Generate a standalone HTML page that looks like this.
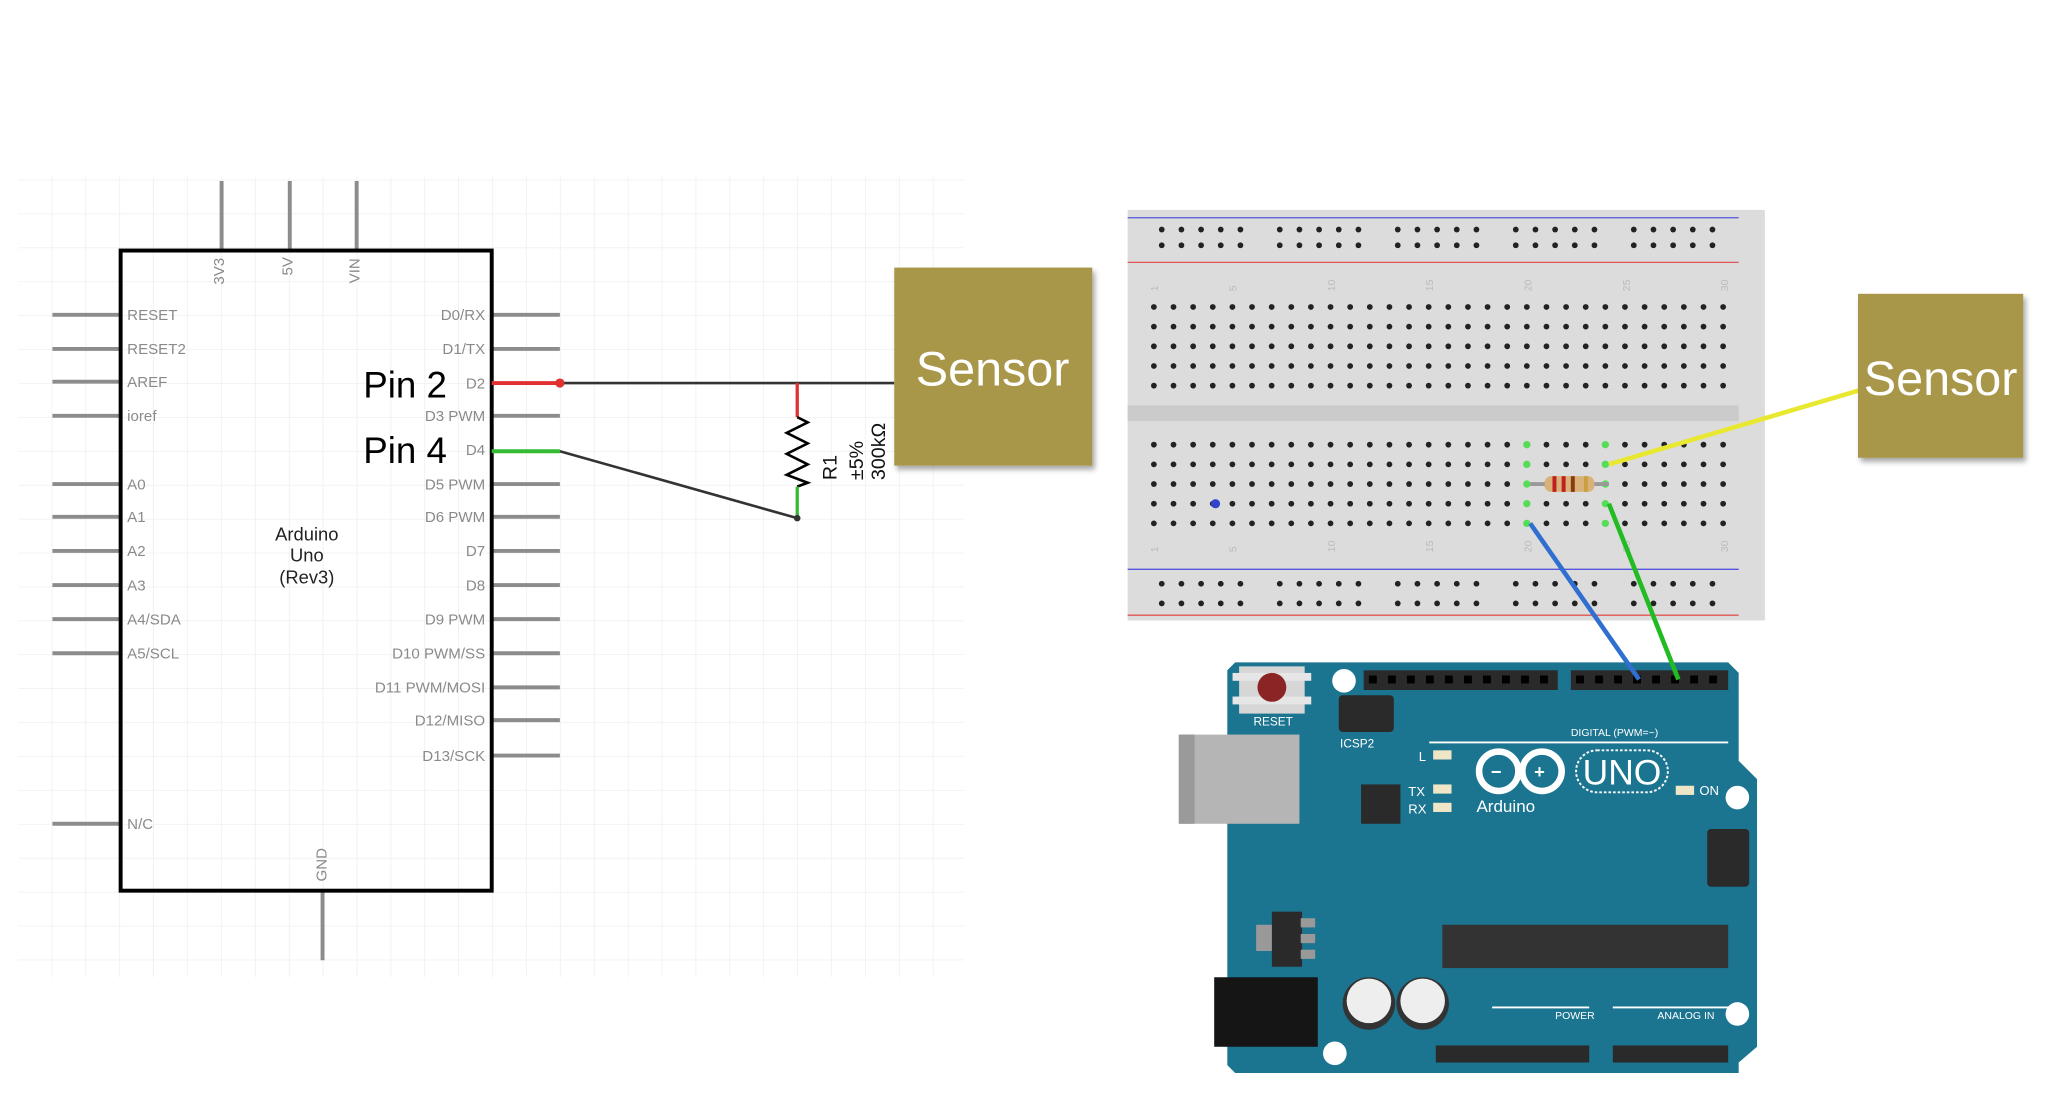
<!DOCTYPE html>
<html><head><meta charset="utf-8"><style>
html,body{margin:0;padding:0;background:#fff;width:2056px;height:1094px;overflow:hidden}
svg{display:block}
text{font-family:"Liberation Sans",sans-serif}
.pl{font-size:11.5px;fill:#8a8a8a}
.pin{stroke:#8c8c8c;stroke-width:3}
</style></head><body>
<svg id="s" width="2056" height="1094" viewBox="0 0 1568 834" preserveAspectRatio="none" xmlns="http://www.w3.org/2000/svg">
<defs>
<pattern id="grid" x="14" y="137.5" width="25.85" height="25.85" patternUnits="userSpaceOnUse">
<path d="M25.85 0V25.85H0" fill="none" stroke="#ececec" stroke-width="1"/>
</pattern>
<filter id="sh" x="-10%" y="-10%" width="130%" height="130%"><feDropShadow dx="2" dy="3" stdDeviation="2" flood-color="#000" flood-opacity="0.35"/></filter>
</defs>
<rect x="14" y="135" width="721" height="610" fill="url(#grid)"/>
<line class="pin" x1="169" y1="138" x2="169" y2="191"/>
<line class="pin" x1="221" y1="138" x2="221" y2="191"/>
<line class="pin" x1="272" y1="138" x2="272" y2="191"/>
<line class="pin" x1="246" y1="679" x2="246" y2="732"/>
<g id="lp"></g>
<rect x="92" y="191" width="283" height="488" fill="none" stroke="#000" stroke-width="3"/>
<text class="pl" transform="translate(171,217) rotate(-90)">3V3</text>
<text class="pl" transform="translate(223,210) rotate(-90)">5V</text>
<text class="pl" transform="translate(274,216) rotate(-90)">VIN</text>
<text class="pl" transform="translate(249,672) rotate(-90)">GND</text>
<text x="234" y="412" font-size="14" text-anchor="middle" fill="#222">Arduino</text>
<text x="234" y="428" font-size="14" text-anchor="middle" fill="#222">Uno</text>
<text x="234" y="445" font-size="14" text-anchor="middle" fill="#222">(Rev3)</text>
<text x="277" y="303" font-size="28" fill="#000">Pin 2</text>
<text x="277" y="353" font-size="28" fill="#000">Pin 4</text>
<line x1="375" y1="292" x2="427" y2="292" stroke="#e03030" stroke-width="3"/>
<line x1="375" y1="344" x2="427" y2="344" stroke="#33bb33" stroke-width="3"/>
<line x1="427" y1="292" x2="682" y2="292" stroke="#333" stroke-width="2"/>
<circle cx="427" cy="292" r="3.5" fill="#e03030"/>
<line x1="427" y1="344" x2="608" y2="395" stroke="#333" stroke-width="2"/>
<line x1="608" y1="292" x2="608" y2="318" stroke="#e03030" stroke-width="2.5"/>
<polyline points="608,318 616,322 600,330 616,338 600,346 616,354 600,362 616,368 608,371" fill="none" stroke="#000" stroke-width="2"/>
<line x1="608" y1="371" x2="608" y2="395" stroke="#33bb33" stroke-width="2.5"/>
<circle cx="608" cy="395" r="2.5" fill="#333"/>
<text transform="translate(638,366) rotate(-90)" font-size="15" fill="#111">R1</text>
<text transform="translate(658,366) rotate(-90)" font-size="15" fill="#111">±5%</text>
<text transform="translate(675,366) rotate(-90)" font-size="15" fill="#111">300kΩ</text>
<rect x="682" y="204" width="151" height="151" fill="#a8964a" filter="url(#sh)"/>
<text x="757" y="294" font-size="37" text-anchor="middle" fill="#fff">Sensor</text>

<rect x="860" y="160" width="486" height="313" fill="#dcdcdc"/>
<rect x="860" y="309" width="466" height="12" fill="#cbcbcb"/>
<line x1="860" y1="166" x2="1326" y2="166" stroke="#5555dd" stroke-width="1"/>
<line x1="860" y1="200" x2="1326" y2="200" stroke="#e05555" stroke-width="1"/>
<line x1="860" y1="434" x2="1326" y2="434" stroke="#5555dd" stroke-width="1"/>
<line x1="860" y1="469" x2="1326" y2="469" stroke="#e05555" stroke-width="1"/>
<g id="bb"></g>
<line x1="1167" y1="369" x2="1227" y2="369" stroke="#999" stroke-width="3"/>
<rect x="1178" y="363" width="38" height="12" rx="5" fill="#d9b27a"/>
<rect x="1184" y="363" width="3" height="12" fill="#c02020"/>
<rect x="1191" y="363" width="3" height="12" fill="#c02020"/>
<rect x="1198" y="363" width="3" height="12" fill="#8a3a10"/>
<rect x="1208" y="363" width="3" height="12" fill="#c9a040"/>
<circle cx="927" cy="384" r="3.5" fill="#3344cc"/>
<line x1="1227" y1="354" x2="1420" y2="297" stroke="#e8e830" stroke-width="3.5"/>
<rect x="1417" y="224" width="126" height="125" fill="#a8964a" filter="url(#sh)"/>
<text x="1480" y="301" font-size="37" text-anchor="middle" fill="#fff">Sensor</text>

<path d="M942 505H1318L1326 513V580L1340 594V798L1326 810V818H942L936 812V511Z" fill="#1b7490"/>
<rect x="945" y="508" width="50" height="36" fill="#d6d6d6"/>
<rect x="940" y="513" width="60" height="6" fill="#e6e6e6"/>
<rect x="940" y="531" width="60" height="6" fill="#e6e6e6"/>
<circle cx="970" cy="524" r="11" fill="#8b2525"/>
<text x="956" y="553" font-size="9" fill="#fff" font-family="Liberation Mono">RESET</text>
<circle cx="1025" cy="519" r="9" fill="#fff"/>
<circle cx="1325" cy="608" r="9" fill="#fff"/>
<circle cx="1325" cy="773" r="9" fill="#fff"/>
<circle cx="1018" cy="803" r="9" fill="#fff"/>
<rect x="1040" y="511" width="148" height="15" fill="#2a2a2a"/>
<rect x="1198" y="511" width="120" height="15" fill="#2a2a2a"/>
<g id="hdr"></g>
<rect x="1021" y="530" width="42" height="28" rx="3" fill="#2a2a2a"/>
<text x="1022" y="570" font-size="9" fill="#fff" font-family="Liberation Mono">ICSP2</text>
<text x="1198" y="561" font-size="8" fill="#fff" font-family="Liberation Mono">DIGITAL (PWM=~)</text>
<line x1="1090" y1="566" x2="1318" y2="566" stroke="#fff" stroke-width="1.5"/>
<rect x="899" y="560" width="92" height="68" fill="#b5b5b5"/>
<rect x="899" y="560" width="12" height="68" fill="#9a9a9a"/>
<rect x="1038" y="598" width="30" height="30" fill="#2a2a2a"/>
<text x="1082" y="580" font-size="10" fill="#fff" font-family="Liberation Mono">L</text>
<text x="1074" y="607" font-size="10" fill="#fff" font-family="Liberation Mono">TX</text>
<text x="1074" y="620" font-size="10" fill="#fff" font-family="Liberation Mono">RX</text>
<rect x="1093" y="572" width="14" height="7" fill="#efe6c8"/>
<rect x="1093" y="598" width="14" height="7" fill="#efe6c8"/>
<rect x="1093" y="612" width="14" height="7" fill="#efe6c8"/>
<rect x="1278" y="599" width="14" height="7" fill="#efe6c8"/>
<text x="1296" y="606" font-size="10" fill="#fff" font-family="Liberation Mono">ON</text>
<circle cx="1143" cy="588" r="15" fill="none" stroke="#fff" stroke-width="5"/>
<circle cx="1176" cy="588" r="15" fill="none" stroke="#fff" stroke-width="5"/>
<text x="1137" y="593" font-size="14" fill="#fff" font-weight="bold">−</text>
<text x="1170" y="593" font-size="14" fill="#fff" font-weight="bold">+</text>
<rect x="1202" y="572" width="70" height="32" rx="16" fill="none" stroke="#fff" stroke-width="1.5" stroke-dasharray="2 1.5"/>
<text x="1237" y="598" font-size="27" text-anchor="middle" fill="#fff">UNO</text>
<text x="1126" y="619" font-size="13" fill="#fff" font-family="Liberation Mono">Arduino</text>
<rect x="1302" y="632" width="32" height="44" rx="3" fill="#2a2a2a"/>
<rect x="1100" y="705" width="218" height="33" fill="#333"/>
<rect x="958" y="705" width="14" height="20" fill="#999"/>
<rect x="970" y="695" width="23" height="42" fill="#2a2a2a"/>
<rect x="992" y="700" width="11" height="7" fill="#999"/><rect x="992" y="712" width="11" height="7" fill="#999"/><rect x="992" y="724" width="11" height="7" fill="#999"/>
<rect x="926" y="745" width="79" height="53" fill="#151515"/>
<circle cx="1044" cy="765" r="20" fill="#333"/><circle cx="1044" cy="763" r="17" fill="#eee"/>
<circle cx="1085" cy="765" r="20" fill="#333"/><circle cx="1085" cy="763" r="17" fill="#eee"/>
<line x1="1138" y1="768" x2="1212" y2="768" stroke="#fff" stroke-width="1.5"/>
<line x1="1230" y1="768" x2="1318" y2="768" stroke="#fff" stroke-width="1.5"/>
<text x="1186" y="777" font-size="8" fill="#fff" font-family="Liberation Mono">POWER</text>
<text x="1264" y="777" font-size="8" fill="#fff" font-family="Liberation Mono">ANALOG IN</text>
<rect x="1095" y="797" width="117" height="13" fill="#2a2a2a"/>
<rect x="1230" y="797" width="88" height="13" fill="#2a2a2a"/>
<line x1="1167" y1="399" x2="1250" y2="518" stroke="#2f6fd0" stroke-width="3.5"/>
<line x1="1227" y1="384" x2="1280" y2="518" stroke="#22bb22" stroke-width="3.5"/>
</svg>
<script>
var NS="http://www.w3.org/2000/svg";
function el(p,t,a){var e=document.createElementNS(NS,t);for(var k in a)e.setAttribute(k,a[k]);document.getElementById(p).appendChild(e);return e;}
function tx(p,x,y,s,anchor,cls){var e=el(p,"text",{x:x,y:y,"class":cls||"pl","text-anchor":anchor||"start"});e.textContent=s;}
var L=[[240,"RESET"],[266,"RESET2"],[291,"AREF"],[317,"ioref"],[369,"A0"],[394,"A1"],[420,"A2"],[446,"A3"],[472,"A4/SDA"],[498,"A5/SCL"],[628,"N/C"]];
L.forEach(function(a){el("lp","line",{x1:40,y1:a[0],x2:92,y2:a[0],"class":"pin"});tx("lp",97,a[0]+4,a[1]);});
var R=[[240,"D0/RX"],[266,"D1/TX"],[292,"D2"],[317,"D3 PWM"],[343,"D4"],[369,"D5 PWM"],[394,"D6 PWM"],[420,"D7"],[446,"D8"],[472,"D9 PWM"],[498,"D10 PWM/SS"],[524,"D11 PWM/MOSI"],[549,"D12/MISO"],[576,"D13/SCK"]];
R.forEach(function(a){if(a[0]!=292&&a[0]!=343)el("lp","line",{x1:375,y1:a[0],x2:427,y2:a[0],"class":"pin"});tx("lp",370,a[0]+4,a[1],"end");});
var cx=function(i){return 880+i*14.97;};
[234,249,264,279,294,339,354,369,384,399].forEach(function(y){for(var i=0;i<30;i++){var g=(i==19||i==23)&&y>330;el("bb","circle",{cx:cx(i),cy:y,r:g?2.8:2.2,fill:g?"#55dd55":"#222"});}});
[175,187,445,460].forEach(function(y){for(var g=0;g<5;g++)for(var j=0;j<5;j++)el("bb","circle",{cx:886+g*90+j*15,cy:y,r:2.2,fill:"#222"});});
[[1,880],[5,940],[10,1015],[15,1090],[20,1165],[25,1240],[30,1315]].forEach(function(a){
 var t=el("bb","text",{transform:"translate("+(a[1]+3)+",222) rotate(-90)","font-size":"8",fill:"#bbb"});t.textContent=a[0];
 var t2=el("bb","text",{transform:"translate("+(a[1]+3)+",421) rotate(-90)","font-size":"8",fill:"#bbb"});t2.textContent=a[0];});
for(var i=0;i<10;i++)el("hdr","rect",{x:1044+i*14.5,y:515,width:6,height:6,fill:"#000"});
for(var i=0;i<8;i++)el("hdr","rect",{x:1202+i*14.5,y:515,width:6,height:6,fill:"#000"});
for(var i=0;i<8;i++)el("hdr","rect",{x:1099+i*14.5,y:801,width:6,height:6,fill:"#000"});
for(var i=0;i<6;i++)el("hdr","rect",{x:1234+i*14.5,y:801,width:6,height:6,fill:"#000"});
for(var r=0;r<2;r++)for(var c=0;c<3;c++)el("hdr","rect",{x:1026+c*13,y:535+r*13,width:5,height:5,fill:"#b8a060"});
for(var r=0;r<3;r++)for(var c=0;c<2;c++)el("hdr","rect",{x:1308+c*14,y:637+r*14,width:5,height:5,fill:"#b8a060"});
</script>
</body></html>
